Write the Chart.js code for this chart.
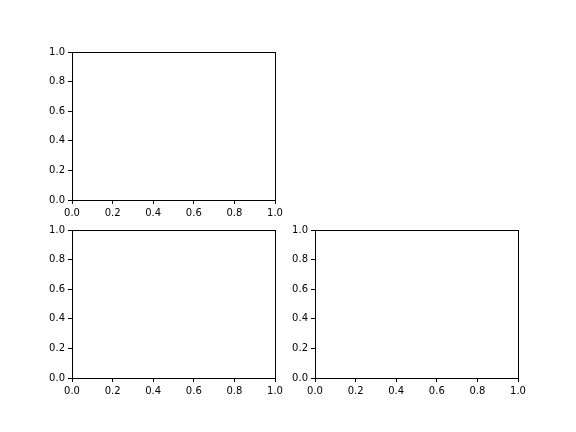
<!DOCTYPE html>
<html>
<head>
<meta charset="utf-8">
<script src="https://cdn.jsdelivr.net/npm/chart.js@4"></script>
<style>
  body { margin: 0; background: #fff; width: 576px; height: 432px; position: relative; overflow: hidden; }
  canvas { position: absolute; }
</style>
</head>
<body>
<canvas id="ax1" width="268" height="183" style="left:22px;top:42px"></canvas>
<canvas id="ax2" width="268" height="183" style="left:22px;top:220px"></canvas>
<canvas id="ax3" width="268" height="183" style="left:265px;top:220px"></canvas>
<script>
// axis limits and ticks shared by every panel
const axisMin = 0;
const axisMax = 1;
const tickStep = 0.2;
const panelIds = ['ax1', 'ax2', 'ax3'];

const frame = {
    id: 'frame',
    afterDraw(chart) {
        const a = chart.chartArea;
        const ctx = chart.ctx;
        ctx.save();
        ctx.strokeStyle = '#000';
        ctx.lineWidth = 1;
        ctx.strokeRect(Math.round(a.left) + 0.5, Math.round(a.top) + 0.5,
            Math.round(a.right - a.left), Math.round(a.bottom - a.top));
        ctx.restore();
    }
};

function axisOpts(pos, size) {
    return {
        type: 'linear',
        position: pos,
        min: axisMin,
        max: axisMax,
        ticks: {
            stepSize: tickStep,
            color: '#000',
            font: { family: 'DejaVu Sans', size: 10 },
            padding: 3,
            callback: v => v.toFixed(1)
        },
        grid: { drawOnChartArea: false, tickLength: 4, color: '#000' },
        border: { display: false },
        afterFit(scale) {
            if (pos === 'left') scale.width = size; else scale.height = size;
        }
    };
}

panelIds.forEach(id => {
    new Chart(document.getElementById(id), {
        type: 'scatter',
        data: { datasets: [{ data: [] }] },
        options: {
            responsive: false,
            animation: false,
            devicePixelRatio: 1,
            layout: { padding: { top: 10, right: 15, left: 0, bottom: 0 } },
            plugins: { legend: { display: false }, tooltip: { enabled: false } },
            scales: {
                x: axisOpts('bottom', 25),
                y: axisOpts('left', 50)
            }
        },
        plugins: [frame]
    });
});
</script>
</body>
</html>
